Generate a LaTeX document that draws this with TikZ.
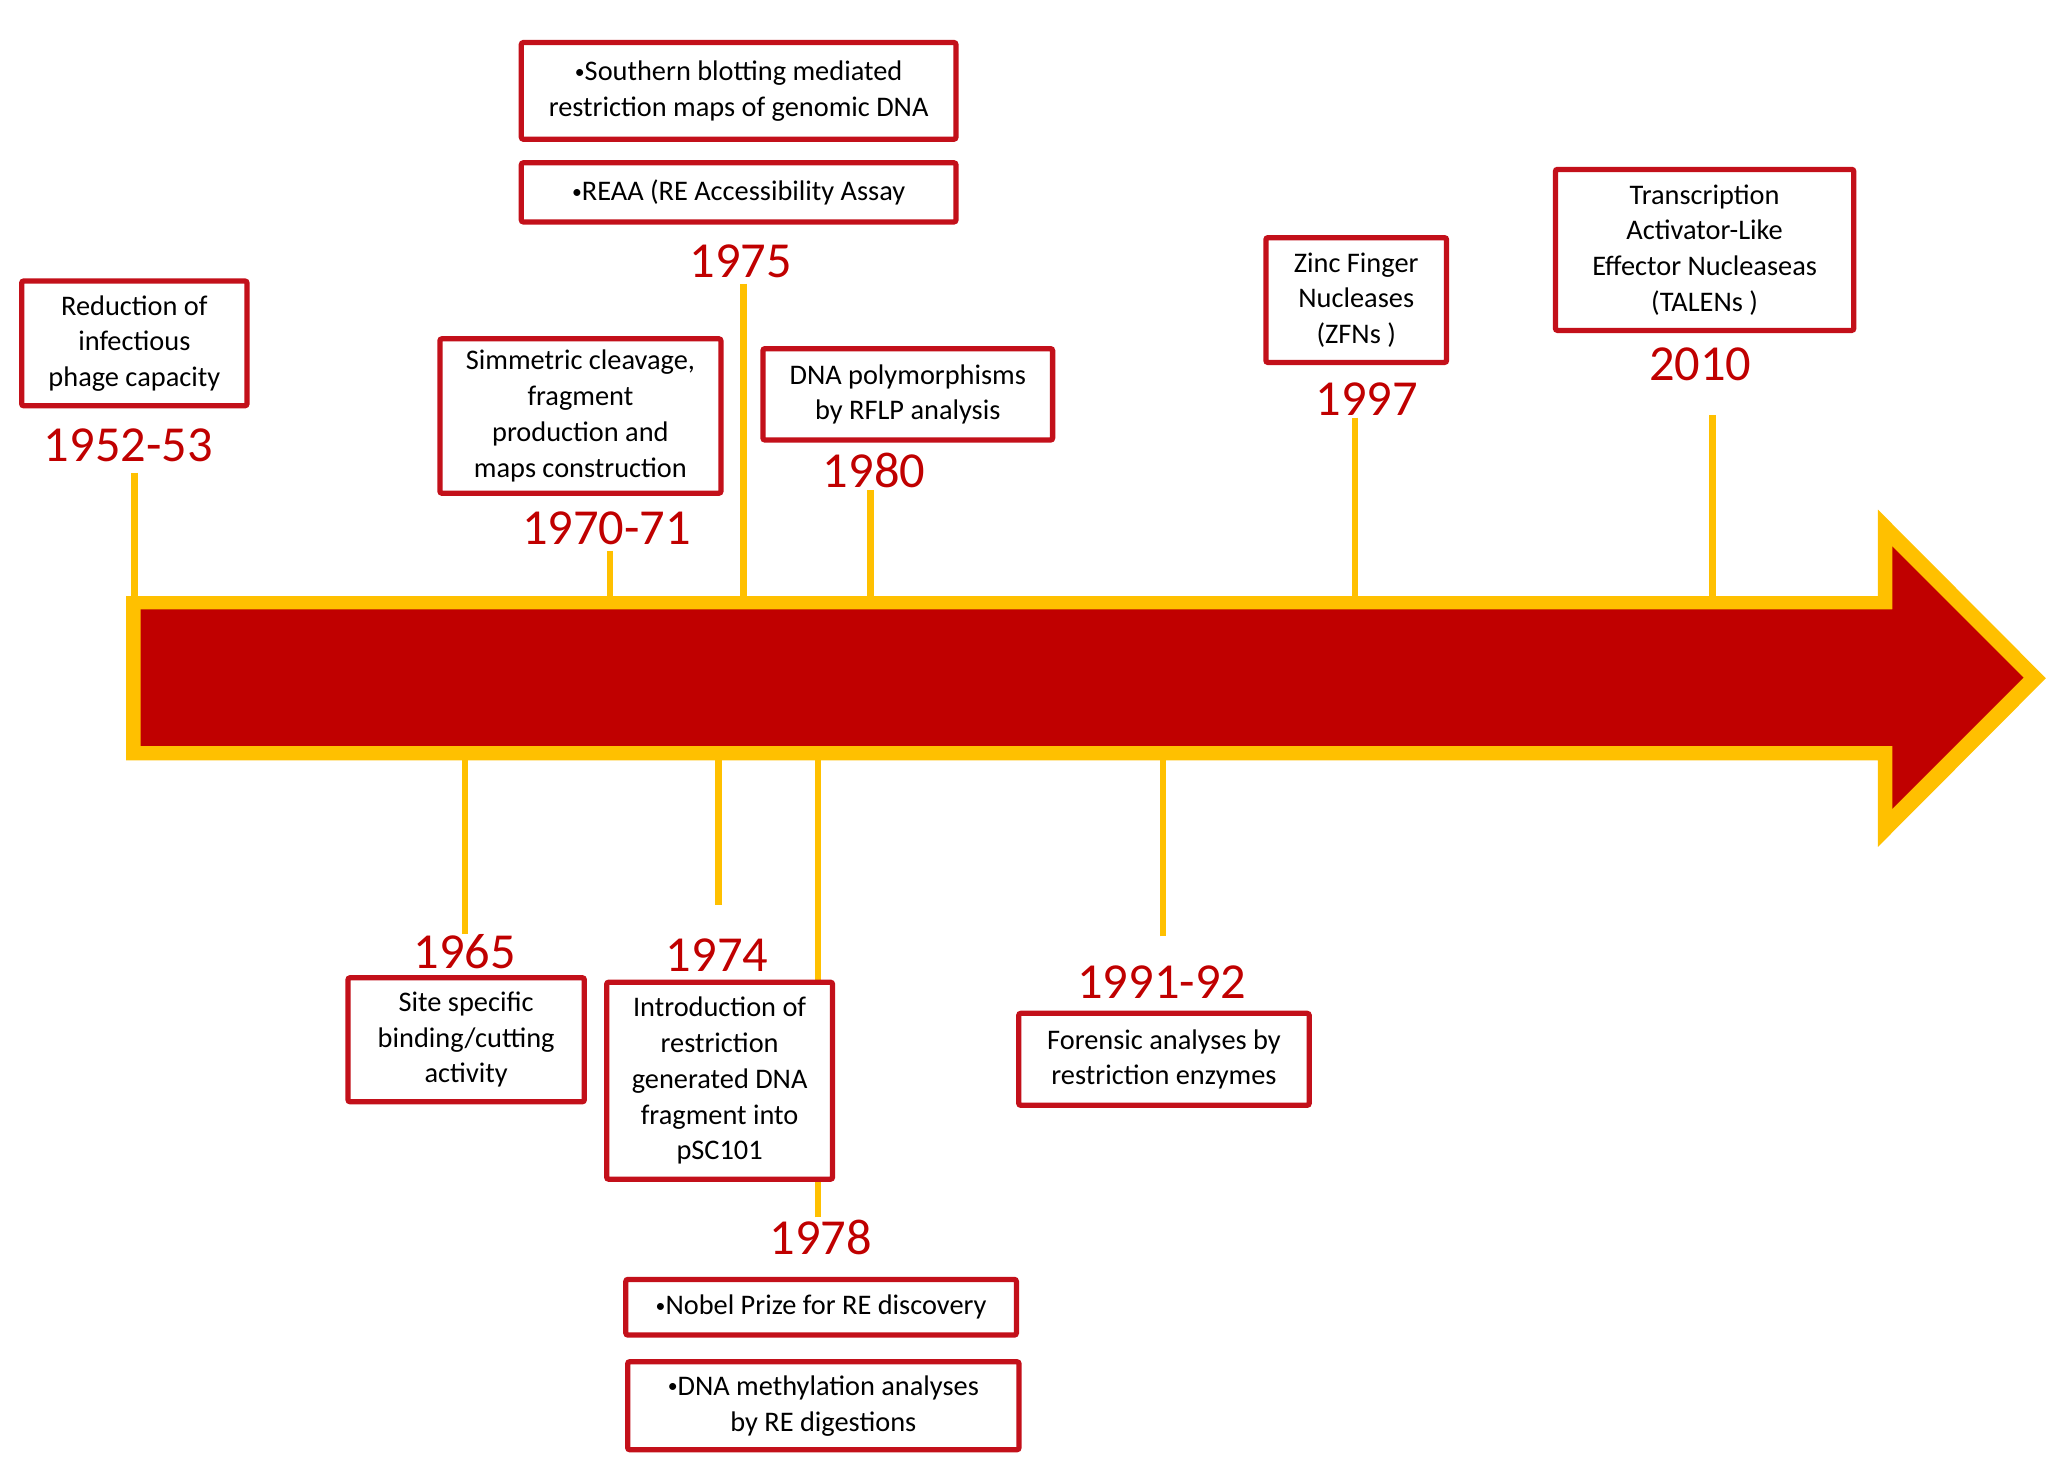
\documentclass[tikz,border=0pt]{standalone}
\usepackage{fontspec}
\setmainfont{Carlito}
\definecolor{darkred}{HTML}{C00000}
\definecolor{boxred}{HTML}{C3101A}
\definecolor{gold}{HTML}{FFC000}
\newcommand\evbul{\raisebox{0.9pt}{\fontsize{7.5}{8}\selectfont •}}
\tikzset{
  evbox/.style={draw=boxred, line width=2pt, fill=white, align=center, inner sep=0pt,
    rounded corners=0.8pt, text=black, font=\fontsize{10.8}{13.6}\selectfont},
  yearlbl/.style={text=darkred, inner sep=0pt, font=\fontsize{19.2}{21}\selectfont},
  ticker/.style={draw=gold, line width=2.5pt}
}
\begin{document}
\begin{tikzpicture}[x=0.5pt,y=-0.5pt]
\useasboundingbox (0,0) rectangle (1568,1114);

% tick end points
\coordinate (t52) at (102.6,360);  \coordinate (a52) at (102.6,460);
\coordinate (t70) at (464.5,419.5);\coordinate (a70) at (464.5,460);
\coordinate (t75) at (566,216);    \coordinate (a75) at (566,460);
\coordinate (t80) at (663,373);    \coordinate (a80) at (663,460);
\coordinate (t97) at (1032,318);   \coordinate (a97) at (1032,460);
\coordinate (t10) at (1304,316);   \coordinate (a10) at (1304,460);
\coordinate (a65) at (354,572);    \coordinate (t65) at (354,711);
\coordinate (a74) at (547,572);    \coordinate (t74) at (547,689);
\coordinate (a78) at (623,572);    \coordinate (t78) at (623,927);
\coordinate (a91) at (885.5,572);  \coordinate (t91) at (885.5,713);

\foreach \p in {52,70,75,80,97,10,65,74,78,91}
  \draw[ticker] (t\p) -- (a\p);

% arrow
\fill[gold] (96,454) -- (1430,454) -- (1430,388) -- (1558,516.5) -- (1430,645)
  -- (1430,579) -- (96,579) -- cycle;
\fill[darkred] (107,464) -- (1441,464) -- (1441,416) -- (1541,516) -- (1441,616)
  -- (1441,568) -- (107,568) -- cycle;

% boxes above
\node[evbox, minimum width=85.8pt, minimum height=47.5pt] (red) at (102.3,261.5)
  {Reduction of\\infectious\\phage capacity};
\node[evbox, minimum width=107pt, minimum height=58.8pt] (sim) at (442,316.8)
  {Simmetric cleavage,\\fragment\\production and\\maps construction};
\node[evbox, minimum width=165.5pt, minimum height=36.8pt] (south) at (562.5,69.2)
  {\evbul Southern blotting mediated\\restriction maps of genomic DNA};
\node[evbox, minimum width=165.5pt, minimum height=22.5pt] (reaa) at (562.5,146.5)
  {\evbul REAA (RE Accessibility Assay};
\node[evbox, minimum width=110.3pt, minimum height=34.8pt] (poly) at (691.3,300.3)
  {DNA polymorphisms\\by RFLP analysis};
\node[evbox, minimum width=68.8pt, minimum height=47.5pt] (zinc) at (1032.8,228.5)
  {Zinc Finger\\Nucleases\\(ZFNs )};
\node[evbox, minimum width=113.6pt, minimum height=61.3pt] (tal) at (1298.1,190.3)
  {Transcription\\Activator-Like\\Effector Nucleaseas\\(TALENs )};

% boxes below
\node[evbox, minimum width=90pt, minimum height=47.2pt] (site) at (355,791.8)
  {Site specific\\binding/cutting\\activity};
\node[evbox, minimum width=86pt, minimum height=75pt] (intro) at (548,823)
  {Introduction of\\restriction\\generated DNA\\fragment into\\pSC101};
\node[evbox, minimum width=148.7pt, minimum height=21.2pt] (nobel) at (625.3,995.5)
  {\evbul Nobel Prize for RE discovery};
\node[evbox, minimum width=149pt, minimum height=33.5pt] (meth) at (627,1070.5)
  {\evbul DNA methylation analyses\\by RE digestions};
\node[evbox, minimum width=110.6pt, minimum height=35pt] (foren) at (886.4,806.7)
  {Forensic analyses by\\restriction enzymes};

% years
\node[yearlbl] (y52) at (97.7,339) {1952-53};
\node[yearlbl] (y70) at (462,402.5) {1970-71};
\node[yearlbl] (y75) at (564,199) {1975};
\node[yearlbl] (y80) at (665.6,358.6) {1980};
\node[yearlbl] (y97) at (1040.7,303.6) {1997};
\node[yearlbl] (y10) at (1294.7,277.3) {2010};
\node[yearlbl] (y65) at (354,725) {1965};
\node[yearlbl] (y74) at (546,727) {1974};
\node[yearlbl] (y78) at (625,942) {1978};
\node[yearlbl] (y91) at (884.7,747.7) {1991-92};
\end{tikzpicture}
\end{document}
